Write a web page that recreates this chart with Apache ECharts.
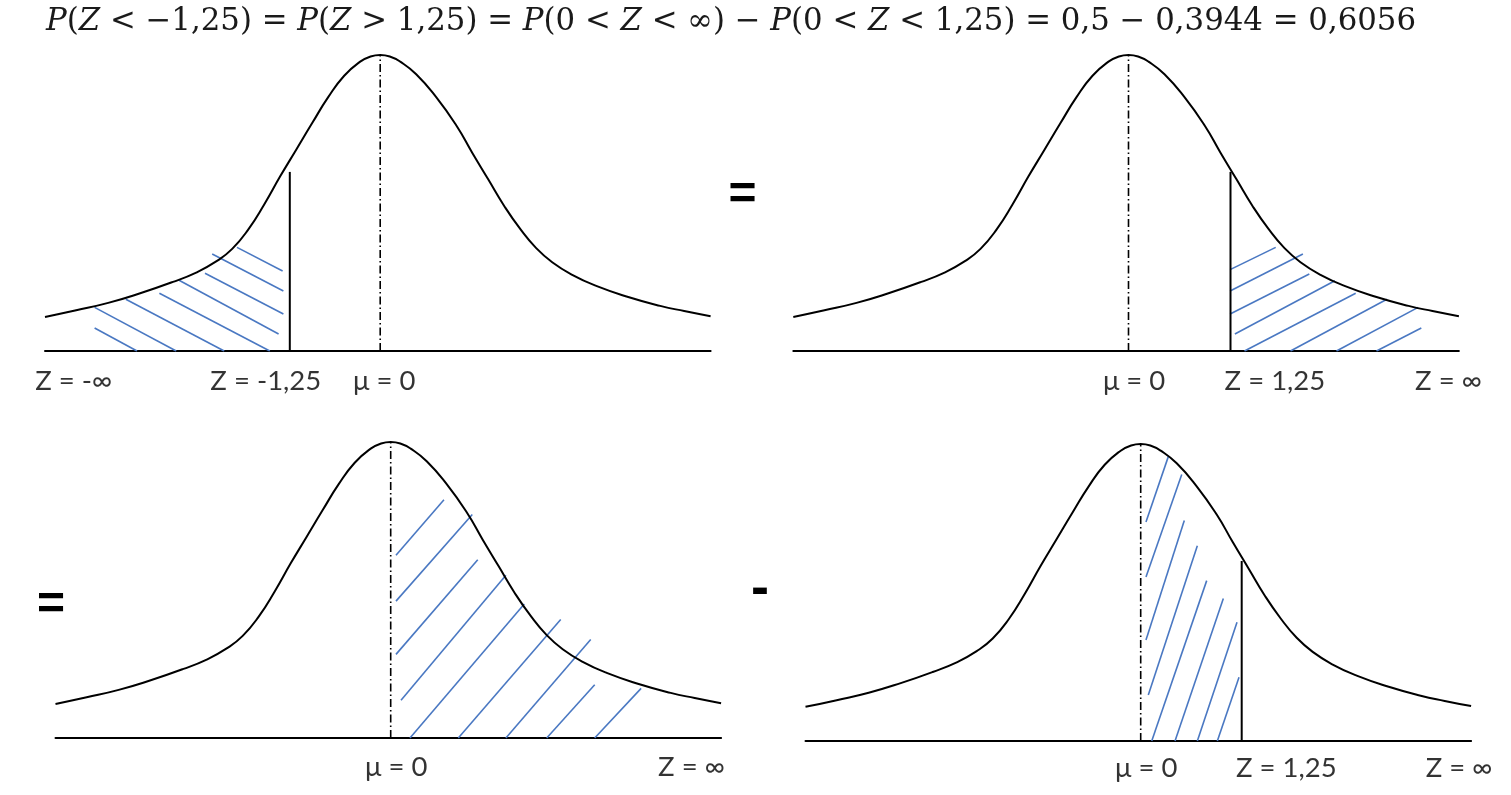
<!DOCTYPE html>
<html><head><meta charset="utf-8">
<script src="https://cdn.jsdelivr.net/npm/echarts@6/dist/echarts.min.js"></script>
<style>html,body{margin:0;padding:0;background:#fff}#c{width:1511px;height:795px}</style>
</head><body><div id="c"></div>
<script>
// ---- data (z units, density units) ----
const curveZ = [-4.19,-3.80,-3.40,-3.00,-2.60,-2.30,-2.05,-1.85,-1.65,-1.45,-1.25,-1.05,-0.85,-0.65,-0.45,-0.25,-0.12,0,
                0.12,0.25,0.45,0.70,0.95,1.15,1.35,1.55,1.75,1.95,2.15,2.40,2.70,3.10,3.50,3.80,4.13];
const curveY = [0.046,0.055,0.065,0.078,0.093,0.106,0.121,0.138,0.164,0.198,0.236,0.272,0.308,0.343,0.372,0.391,0.398,0.400,
                0.398,0.391,0.374,0.343,0.305,0.268,0.232,0.196,0.165,0.139,0.120,0.103,0.088,0.073,0.061,0.054,0.047];
const meanZ = 0;
const peakY = 0.4;
const cutZ = [-1.13, 1.275, null, 1.2625];
const cutTop = [0.242, 0.242, null, 0.2424];
const hatchTL = [
  [-3.57,0.031,-3.04,0],[-3.57,0.059,-2.55,0],[-3.18,0.070,-1.95,0],[-2.76,0.078,-1.38,0],
  [-2.52,0.096,-1.27,0.023],[-2.19,0.105,-1.21,0.050],[-2.10,0.131,-1.21,0.081],[-1.79,0.140,-1.22,0.108]
];
const hatchTR = [
  [1.27,0.110,1.84,0.140],[1.27,0.081,2.18,0.131],[1.27,0.050,2.26,0.104],[1.33,0.023,2.58,0.095],
  [1.45,0,2.84,0.078],[2.025,0,3.23,0.070],[2.60,0,3.62,0.059],[3.10,0,3.66,0.031]
];
const hatchBL = [
  [0.066,0.247,0.666,0.322],[0.066,0.185,1.02,0.302],[0.066,0.113,1.088,0.241],[0.129,0.051,1.44,0.220],
  [0.241,0,1.67,0.181],[0.845,0,2.125,0.160],[1.44,0,2.50,0.133],[1.95,0,2.55,0.072],[2.55,0,3.13,0.067]
];
const hatchBR = [
  [0.066,0.295,0.345,0.383],[0.066,0.221,0.513,0.359],[0.066,0.136,0.545,0.297],[0.095,0.062,0.708,0.263],
  [0.138,0,0.825,0.216],[0.429,0,1.033,0.192],[0.708,0,1.204,0.160],[0.958,0,1.229,0.086]
];
const hatches = [hatchTL, hatchTR, hatchBL, hatchBR];
const labelText = [["Z = -∞","Z = -1,25","μ = 0"],["μ = 0","Z = 1,25","Z = ∞"],["μ = 0","Z = ∞"],["μ = 0","Z = 1,25","Z = ∞"]];
const labelZ = [[-3.83,-1.43,0.05],[0.07,1.83,4.0],[0.07,3.76],[0.07,1.82,3.98]];
const titleText = '{i|P}({i|Z} < −1,25) = {i|P}({i|Z} > 1,25) = {i|P}(0 < {i|Z} < ∞) − {i|P}(0 < {i|Z} < 1,25) = 0,5 − 0,3944 = 0,6056';

// ---- layout ----
const zMin = -4.19, zMax = 4.13;
const grids = [
  {left:45, top:55, width:665.6, height:296},
  {left:793.3, top:55, width:665.6, height:296},
  {left:55.5, top:442, width:665.6, height:296},
  {left:805.5, top:444, width:665.6, height:297}
];
const labelDy = [30, 30, 29, 27];
const BLUE = '#4a78c2';
const LFONT = 'Lato';

const xAxis = [], yAxis = [], series = [];
grids.forEach((g, i) => {
  xAxis.push({gridIndex:i, type:'value', min:zMin, max:zMax,
    axisLine:{show:true, onZero:false, lineStyle:{color:'#000', width:2}},
    axisTick:{show:false}, axisLabel:{show:false}, splitLine:{show:false}});
  yAxis.push({gridIndex:i, type:'value', min:0, max:peakY, show:false, splitLine:{show:false}});
  series.push({type:'lines', coordinateSystem:'cartesian2d', xAxisIndex:i, yAxisIndex:i, z:1, silent:true,
    lineStyle:{color:BLUE, width:1.6, opacity:1},
    data: hatches[i].map(h => ({coords:[[h[0],h[1]],[h[2],h[3]]]}))});
  series.push({type:'line', xAxisIndex:i, yAxisIndex:i, z:3, smooth:0.5, symbol:'none', clip:false, silent:true,
    lineStyle:{color:'#000', width:2},
    data: curveZ.map((z, k) => [z, curveY[k]])});
  series.push({type:'line', xAxisIndex:i, yAxisIndex:i, z:2, symbol:'none', clip:false, silent:true,
    lineStyle:{color:'#000', width:1.6, type:[8,3,1.5,3]},
    data: [[meanZ, 0],[meanZ, peakY]]});
  if (cutZ[i] !== null) {
    series.push({type:'line', xAxisIndex:i, yAxisIndex:i, z:2, symbol:'none', clip:false, silent:true,
      lineStyle:{color:'#000', width:2},
      data: [[cutZ[i], 0],[cutZ[i], cutTop[i]]]});
  }
  series.push({type:'scatter', xAxisIndex:i, yAxisIndex:i, symbolSize:1, silent:true, clip:false,
    itemStyle:{color:'rgba(0,0,0,0)'},
    label:{show:true, position:'inside', offset:[0, labelDy[i]], color:'#000', fontFamily:LFONT, fontSize:27.5},
    data: labelText[i].map((t, k) => ({value:[labelZ[i][k], 0], label:{formatter:t}}))});
});

const chart = echarts.init(document.getElementById('c'), null, {renderer:'canvas'});
chart.setOption({
  backgroundColor:'#fff',
  animation:false,
  title:{text:titleText, left:41, top:1,
    textStyle:{fontFamily:'DejaVu Serif', fontSize:30.8, fontWeight:'normal', color:'#1a1a1a',
      rich:{i:{fontFamily:'DejaVu Serif', fontStyle:'italic', fontSize:30.8, color:'#1a1a1a'}}}},
  grid: grids,
  xAxis, yAxis, series,
  graphic:[
    {type:'text', x:742.5, y:195.5, style:{text:'=', font:'bold 48px "Liberation Sans"', fill:'#000', align:'center', verticalAlign:'middle'}},
    {type:'text', x:51, y:605.5, style:{text:'=', font:'bold 48px "Liberation Sans"', fill:'#000', align:'center', verticalAlign:'middle'}},
    {type:'text', x:760, y:590, style:{text:'-', font:'bold 54px "Liberation Sans"', fill:'#000', align:'center', verticalAlign:'middle'}}
  ]
});
</script></body></html>
